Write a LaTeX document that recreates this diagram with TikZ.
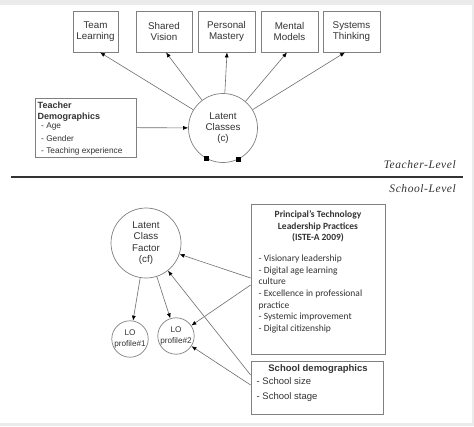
\documentclass[tikz,border=0pt]{standalone}
\usepackage{fontspec}
\setmainfont{Liberation Sans}
\newfontfamily\calfont{Carlito}
\newfontfamily\serifit[LetterSpace=5]{Liberation Serif}
\usetikzlibrary{arrows.meta,calc}
\definecolor{bggray}{HTML}{EBEBEB}
\definecolor{boxline}{HTML}{808080}
\definecolor{conn}{HTML}{6E6E6E}
\definecolor{txt}{HTML}{333333}
\tikzset{
  box/.style={draw=boxline, line width=0.8pt, inner sep=0pt, fill=white, text=txt, align=center, font=\fontsize{9.8}{11}\selectfont},
  ring/.style={circle, draw=boxline, line width=0.7pt, inner sep=0pt, text=txt, align=center},
  arr/.style={draw=conn, line width=0.6pt, -{Latex[length=5pt,width=4pt,color=black]}},
  sq/.style={fill=black, minimum size=5pt, inner sep=0pt, rectangle},
  txtnode/.style={inner sep=0pt, text=txt},
  levelfont/.style={font=\serifit\itshape\fontsize{11.5}{13}\selectfont}
}
\begin{document}
\begin{tikzpicture}[x=1pt,y=-1pt]
\useasboundingbox (0,0) rectangle (474,426);
\fill[bggray] (0,0) rectangle (474,426);
\fill[white] (0,5) rectangle (472,423);

% top boxes
\node[box, minimum width=45, minimum height=41] (b1) at (95.5,31.5) {Team\\Learning};
\node[box, minimum width=56, minimum height=41] (b2) at (164,31.5) {Shared\\Vision};
\node[box, minimum width=57, minimum height=41] (b3) at (226.5,31.5) {Personal\\Mastery};
\node[box, minimum width=57, minimum height=41] (b4) at (289.5,31.5) {Mental\\Models};
\node[box, minimum width=57, minimum height=41] (b5) at (351.5,31.5) {Systems\\Thinking};

% latent classes
\node[ring, minimum size=69, font=\fontsize{9.8}{11}\selectfont] (lc) at (223,128) {Latent\\Classes\\(c)};
\node[sq] (s1) at (lc.242) {};
\node[sq] (s2) at (lc.296) {};

% teacher demographics
\node[box, minimum width=101, minimum height=59] (td) at (85.5,127.5) {};
\node[txtnode, anchor=west, align=left, font=\bfseries\fontsize{9}{11}\selectfont] (tdh) at (37.5,111.5) {Teacher\\Demographics};
\node[txtnode, anchor=west, align=left, font=\fontsize{8.3}{12.5}\selectfont] (tdl) at (41,139.5) {- Age\\- Gender\\- Teaching experience};

\draw[arr] (lc) -- ($(b1.south)+(4.5,0)$);
\draw[arr] (lc) -- ($(b2.south)+(2,0)$);
\draw[arr] (lc) -- ($(b3.south)+(0.5,0)$);
\draw[arr] (lc) -- ($(b4.south)+(-2.5,0)$);
\draw[arr] (lc) -- ($(b5.south)+(-6.5,0)$);
\draw[arr] (td) -- (lc);

% levels
\node[txtnode, levelfont, anchor=east] (tl) at (456,165) {Teacher-Level};
\coordinate (dl) at (11,177);
\coordinate (dr) at (463,177);
\draw[line width=1.1pt, color=txt] (dl) -- (dr);
\node[txtnode, levelfont, anchor=east] (sl) at (456,189) {School-Level};

% school level
\node[ring, minimum size=70, font=\fontsize{9.8}{11.3}\selectfont] (lcf) at (146,243) {Latent\\Class\\Factor\\(cf)};
\node[ring, minimum size=36, font=\fontsize{8.2}{11}\selectfont] (lo1) at (130,339) {LO\\profile\#1};
\node[ring, minimum size=36, font=\fontsize{8.2}{11}\selectfont] (lo2) at (176,336) {LO\\profile\#2};

\node[box, minimum width=134, minimum height=150] (ptl) at (318,279) {};
\node[txtnode, align=center, font=\calfont\bfseries\fontsize{9.5}{11.5}\selectfont] (ptlh) at (318,226.5) {Principal’s Technology\\Leadership Practices\\(ISTE-A 2009)};
\node[txtnode, anchor=west, align=left, font=\calfont\fontsize{9.5}{11.7}\selectfont] (ptll) at (258.5,294) {- Visionary leadership\\- Digital age learning\\culture\\- Excellence in professional\\practice\\- Systemic improvement\\- Digital citizenship};

\node[box, minimum width=132, minimum height=53] (sd) at (317,387.5) {};
\node[txtnode, font=\bfseries\fontsize{9.5}{11}\selectfont] (sdh) at (318,369) {School demographics};
\node[txtnode, anchor=west, align=left, font=\fontsize{9.5}{15}\selectfont] (sdl) at (256.5,389.5) {- School size\\- School stage};

\draw[arr] (lcf) -- (lo1);
\draw[arr] (lcf) -- (lo2);
\draw[arr] ($(ptl.west)+(0,-1)$) -- (lcf);
\draw[arr] ($(ptl.west)+(0,6)$) -- (lo2);
\draw[arr] ($(sd.west)+(0,-12.5)$) -- (lcf);
\draw[arr] ($(sd.west)+(0,-2.5)$) -- (lo2);
\end{tikzpicture}
\end{document}
